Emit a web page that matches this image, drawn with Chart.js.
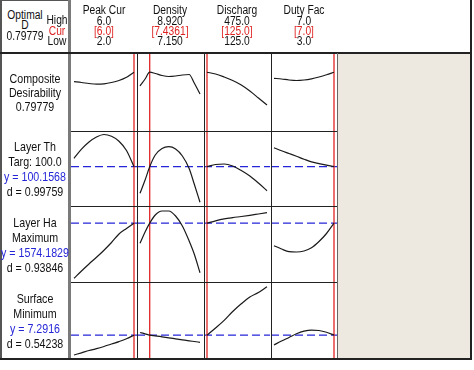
<!DOCTYPE html>
<html>
<head>
<meta charset="utf-8">
<script src="https://cdn.jsdelivr.net/npm/chart.js@4"></script>
<style>
  body { margin: 0; background: #fff; }
  #wrap { position: relative; width: 474px; height: 370px; overflow: hidden; background: #fff;
          font-family: 'Liberation Sans', Arial, sans-serif; color: #111; }
  .t { position: absolute; white-space: nowrap; text-align: center; line-height: 12px;
       transform: scaleX(0.82); transform-origin: center; z-index: 3; }
  .ln { position: absolute; }
  canvas { position: absolute; }
</style>
</head>
<body>
<div id="wrap"></div>
<script>
// --- Factores (columnas) ---
const factors = ['Peak Cur', 'Density', 'Discharg', 'Duty Fac'];
const highLabels = ['6.0', '8.920', '475.0', '7.0'];
const curLabels = ['[6.0]', '[7.4361]', '[125.0]', '[7.0]'];
const lowLabels = ['2.0', '7.150', '125.0', '3.0'];
const factorLow = [2, 7.15, 125, 3];
const factorHigh = [6, 8.92, 475, 7];
const factorCur = [6, 7.4361, 125, 7];

// --- Respuestas (filas) ---
const rowLabels = [
  ['Composite', 'Desirability', '0.79779'],
  ['Layer Th', 'Targ: 100.0', 'y = 100.1568', 'd = 0.99759'],
  ['Layer Ha', 'Maximum', 'y = 1574.1829', 'd = 0.93846'],
  ['Surface', 'Minimum', 'y = 7.2916', 'd = 0.54238']
];
const rowPredicted = [null, 100.1568, 1574.1829, 7.2916];
const rowMin = [0.21, 80.5, 1280, 6.10];
const rowMax = [0.99, 118, 1660, 9.95];

// --- Rejillas x de cada factor ---
const peakCurX = [2, 2.5, 3, 3.5, 4, 4.5, 5, 5.5, 6];
const densityX = [7.15, 7.3, 7.4361, 7.6, 7.8, 8.0, 8.2, 8.4, 8.6, 8.75, 8.92];
const dischargX = [125, 175, 225, 275, 325, 375, 425, 475];
const dutyFacX = [3, 3.5, 4, 4.5, 5, 5.5, 6, 6.5, 7];

// --- Composite desirability ---
const desPeakCur = [0.703, 0.695, 0.685, 0.678, 0.682, 0.695, 0.715, 0.747, 0.7978];
const desDensity = [0.66, 0.73, 0.7978, 0.785, 0.765, 0.755, 0.76, 0.77, 0.775, 0.69, 0.58];
const desDischarg = [0.7978, 0.78, 0.75, 0.715, 0.67, 0.61, 0.54, 0.47];
const desDutyFac = [0.737, 0.73, 0.72, 0.715, 0.72, 0.732, 0.75, 0.772, 0.7978];

// --- Layer Th ---
const thPeakCur = [104.35, 108.9, 112.5, 115, 116.25, 115.35, 112.9, 108.25, 100.157];
const thDensity = [86.85, 93.5, 100.157, 106, 109.25, 110.15, 109, 105.5, 99.25, 91.5, 82.35];
const thDischarg = [100.157, 101.25, 101.5, 100.5, 98.25, 95.5, 92, 88.15];
const thDutyFac = [109.65, 108.15, 106.75, 105.35, 103.9, 102.55, 101.7, 100.9, 100.157];

// --- Layer Ha ---
const haPeakCur = [1298.5, 1335, 1370, 1403.5, 1439, 1477.5, 1520, 1547.5, 1574.18];
const haDensity = [1473.5, 1530, 1574.18, 1615, 1635, 1635, 1610, 1560, 1485, 1420, 1326.5];
const haDischarg = [1574.18, 1586, 1595.5, 1602, 1607.5, 1613.5, 1620, 1626.5];
const haDutyFac = [1461.5, 1445, 1431.5, 1430, 1435, 1451, 1482.5, 1522.5, 1574.18];

// --- Surface ---
const sfPeakCur = [6.30, 6.41, 6.525, 6.615, 6.725, 6.85, 6.97, 7.11, 7.2916];
const sfDensity = [7.425, 7.36, 7.2916, 7.26, 7.21, 7.16, 7.11, 7.06, 7.01, 6.975, 6.935];
const sfDischarg = [7.2916, 7.65, 8.03, 8.475, 8.86, 9.2, 9.425, 9.715];
const sfDutyFac = [6.80, 7.0, 7.175, 7.36, 7.49, 7.545, 7.525, 7.435, 7.2916];

const xGrids = [peakCurX, densityX, dischargX, dutyFacX];
const curves = [
  [desPeakCur, desDensity, desDischarg, desDutyFac],
  [thPeakCur, thDensity, thDischarg, thDutyFac],
  [haPeakCur, haDensity, haDischarg, haDutyFac],
  [sfPeakCur, sfDensity, sfDischarg, sfDutyFac]
];

// --- Layout ---
const wrap = document.getElementById('wrap');
const colLeft = [71, 137, 204, 271];
const colW = 66;
const rowTop = [53, 131, 206, 282];
const rowH = [78, 75, 76, 77];
const RED = '#e02424';
const BLUE = '#2626d8';

function addLine(x, y, w, h, color, z) {
  const d = document.createElement('div');
  d.className = 'ln';
  d.style.cssText = `left:${x}px;top:${y}px;width:${w}px;height:${h}px;background:${color};z-index:${z || 2}`;
  wrap.appendChild(d);
}
function addText(txt, cx, cy, size, color) {
  const d = document.createElement('div');
  d.className = 't';
  d.textContent = txt;
  d.style.left = (cx - 60) + 'px';
  d.style.width = '120px';
  d.style.top = (cy - 6) + 'px';
  d.style.fontSize = size + 'px';
  d.style.color = color || '#111';
  wrap.appendChild(d);
}

// fondo gris a la derecha
addLine(337, 54, 134, 305, '#ede9e1', 0);

// cabecera
addText('Optimal', 25, 14.5, 12.5);
addText('D', 25, 25, 12.5);
addText('0.79779', 25, 35.5, 12.5);
addText('High', 57, 20, 12.5);
addText('Cur', 57, 30.5, 12.5, RED);
addText('Low', 57, 41, 12.5);
factors.forEach((f, i) => {
  const cx = colLeft[i] + colW / 2;
  addText(f, cx, 10, 12.5);
  addText(highLabels[i], cx, 20.5, 12.5);
  addText(curLabels[i], cx, 30.5, 12.5, RED);
  addText(lowLabels[i], cx, 41, 12.5);
});

// etiquetas de filas
rowLabels.forEach((lines, r) => {
  const n = lines.length;
  const mid = rowTop[r] + rowH[r] / 2 + (r === 0 ? 1 : 1);
  const step = r === 0 ? 14 : 15;
  lines.forEach((s, k) => {
    const cy = mid + (k - (n - 1) / 2) * step;
    addText(s, 35, cy, 13, s.startsWith('y =') ? BLUE : '#111');
  });
});

// gráficos pequeños
curves.forEach((rowCurves, r) => {
  rowCurves.forEach((ys, c) => {
    const xs = xGrids[c];
    const pad = (factorHigh[c] - factorLow[c]) * 3 / 60;
    const xMin = factorLow[c] - pad, xMax = factorHigh[c] + pad;
    const cv = document.createElement('canvas');
    cv.width = colW; cv.height = rowH[r];
    cv.style.left = colLeft[c] + 'px';
    cv.style.top = rowTop[r] + 'px';
    cv.style.zIndex = 1;
    wrap.appendChild(cv);

    const datasets = [{
      data: xs.map((x, i) => ({ x: x, y: ys[i] })),
      borderColor: '#1a1a1a',
      borderWidth: 1.2,
      pointRadius: 0,
      cubicInterpolationMode: 'monotone'
    }, {
      data: [{ x: factorCur[c], y: rowMin[r] }, { x: factorCur[c], y: rowMax[r] }],
      borderColor: RED,
      borderWidth: 1.3,
      pointRadius: 0
    }];
    if (rowPredicted[r] !== null) {
      datasets.push({
        data: [{ x: xMin, y: rowPredicted[r] }, { x: xMax, y: rowPredicted[r] }],
        borderColor: BLUE,
        borderWidth: 1.3,
        borderDash: [8, 4],
        pointRadius: 0
      });
    }
    new Chart(cv, {
      type: 'line',
      data: { datasets: datasets },
      options: {
        responsive: false,
        animation: false,
        events: [],
        layout: { padding: 0 },
        plugins: { legend: { display: false }, tooltip: { enabled: false } },
        scales: {
          x: { type: 'linear', display: false, min: xMin, max: xMax },
          y: { display: false, min: rowMin[r], max: rowMax[r] }
        }
      }
    });
  });
});

// líneas de la rejilla
addLine(0, 0, 2, 360, '#555');
addLine(0, 0, 70, 1, '#555');
addLine(68, 0, 3, 359, '#7a7a7a');
addLine(0, 52, 472, 2, '#222');
[137, 204, 271].forEach(x => addLine(x, 53, 1, 306, '#222'));
[131, 206, 282].forEach(y => addLine(71, y, 266, 1, '#222'));
addLine(337, 53, 1, 306, '#666');
addLine(470, 0, 2, 360, '#222');
addLine(0, 358, 472, 2, '#222');
</script>
</body>
</html>
